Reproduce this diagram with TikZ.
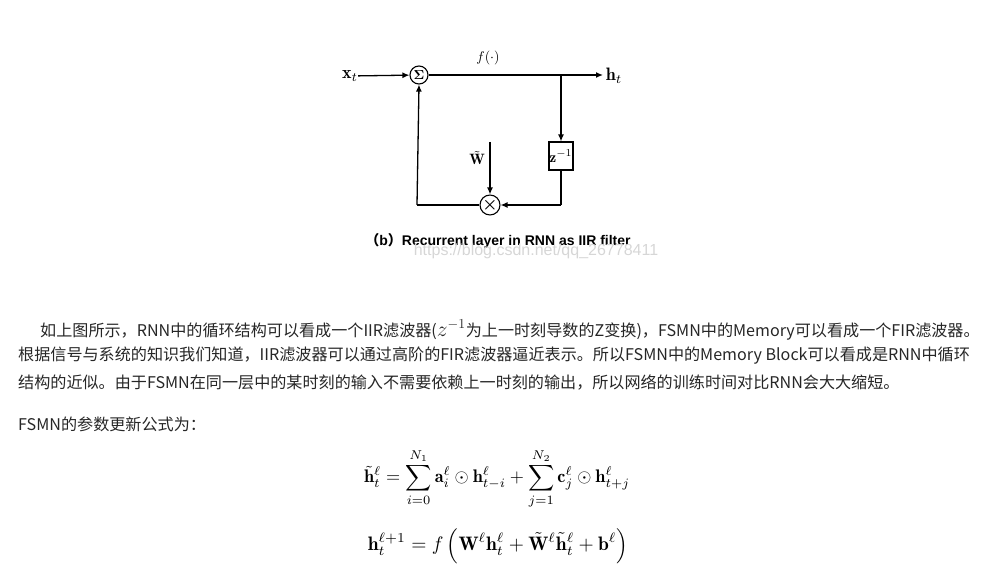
\documentclass[tikz,border=0pt]{standalone}
\usepackage{amsmath,amssymb,graphicx}
\usepackage{fontspec}
\usetikzlibrary{arrows.meta}
\newfontfamily\cjk{Noto Sans CJK SC}
\newfontfamily\arialf{Liberation Sans}
\begin{document}
\begin{tikzpicture}[x=1pt,y=-1pt,
  lbl/.style={inner sep=0pt},
  arr/.style={draw,line width=1.3pt,-{Latex[length=7pt,width=6pt]}},
  ln/.style={draw,line width=1.3pt},
  op/.style={circle,draw,line width=1.1pt,minimum size=18pt,inner sep=0pt},
  para/.style={anchor=west,inner sep=0pt,font=\cjk\fontsize{16.1}{18}\selectfont,text=black!85}]
\useasboundingbox (0,0) rectangle (996,577);
\node[lbl] (x) at (350,76) {\scalebox{1.8}{$\mathbf{x}_t$}};
\node[op] (s) at (419,75) {\scalebox{1.3}{$\boldsymbol{\Sigma}$}};
\node[lbl] (h) at (614,76) {\scalebox{1.8}{$\mathbf{h}_t$}};
\coordinate (br) at (561,75);
\coordinate (hend) at (603,75);
\node[draw,line width=1.1pt,minimum width=24pt,minimum height=28pt,inner sep=0pt] (z) at (561,156) {\scalebox{1.5}{$\mathbf{z}^{-1}$}};
\node[op] (m) at (490,205) {\scalebox{1.7}{$\boldsymbol{\times}$}};
\coordinate (zc) at (561,205);
\coordinate (lc) at (417,205);
\coordinate (wt) at (490,142);
\node[lbl] (w) at (477,158) {\scalebox{1.5}{$\tilde{\mathbf{W}}$}};
\node[lbl] (f) at (488,58) {\scalebox{1.4}{$f(\cdot)$}};
\draw[arr] (x) -- (s);
\draw[arr] (s) -- (hend);
\draw[arr] (br) -- (z.north);
\draw[ln] (z.south) -- (zc);
\draw[arr] (zc) -- (m);
\draw[arr] (wt) -- (m.north);
\draw[ln] (m.west) -- (lc);
\draw[arr] (lc) -- (s.south);
\node[lbl] (cap) at (498,241) {\arialf\bfseries\fontsize{14}{14}\selectfont\cjk（\arialf b\cjk）\arialf Recurrent layer in RNN as IIR filter};
\node[lbl,text=black!16] (wm) at (536,251) {\arialf\fontsize{16}{16}\selectfont https://blog.csdn.net/qq\_26778411};
\node[para] (p1) at (40,330) {如上图所示，RNN中的循环结构可以看成一个IIR滤波器(\scalebox{1.25}{$z^{-1}$}为上一时刻导数的Z变换)，FSMN中的Memory可以看成一个FIR滤波器。};
\node[para] (p2) at (18,356) {根据信号与系统的知识我们知道，IIR滤波器可以通过高阶的FIR滤波器逼近表示。所以FSMN中的Memory Block可以看成是RNN中循环};
\node[para] (p3) at (18,382) {结构的近似。由于FSMN在同一层中的某时刻的输入不需要依赖上一时刻的输出，所以网络的训练时间对比RNN会大大缩短。};
\node[para] (p4) at (18,424) {FSMN的参数更新公式为：};
\node[lbl] (e1) at (497,479) {\scalebox{1.82}{$\displaystyle \tilde{\mathbf{h}}_t^\ell=\sum_{i=0}^{N_1}\mathbf{a}_i^\ell\odot\mathbf{h}_{t-i}^\ell+\sum_{j=1}^{N_2}\mathbf{c}_j^\ell\odot\mathbf{h}_{t+j}^\ell$}};
\node[lbl] (e2) at (498,546) {\scalebox{1.95}{$\displaystyle \mathbf{h}_t^{\ell+1}=f\left(\mathbf{W}^\ell\mathbf{h}_t^\ell+\tilde{\mathbf{W}}^\ell\tilde{\mathbf{h}}_t^\ell+\mathbf{b}^\ell\right)$}};
\end{tikzpicture}
\end{document}
